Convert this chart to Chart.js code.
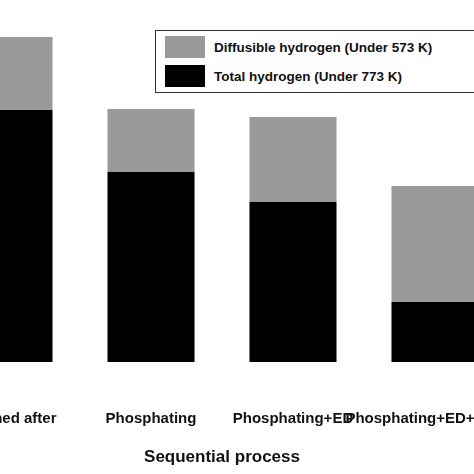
<!DOCTYPE html>
<html><head><meta charset="utf-8">
<script src="https://cdn.jsdelivr.net/npm/chart.js@4"></script>
<style>
html,body{margin:0;padding:0;width:474px;height:474px;overflow:hidden;background:#fff;font-family:"Liberation Sans",Arial,sans-serif}
#wrap{position:absolute;left:-62px;top:0;width:568px;height:474px}
#legend{position:absolute;left:155px;top:30px;width:340px;height:61px;border:1px solid #333;background:#fff;font-weight:bold;font-size:13.5px;color:#111}
.item{position:absolute;left:9px;display:flex;align-items:center}
.sw{width:40px;height:22px;margin-right:9px}
</style></head><body>
<div id="wrap"><canvas id="chart" width="568" height="474"></canvas></div>
<div id="legend">
  <div class="item" style="top:5px"><div class="sw" style="background:#999"></div>Diffusible hydrogen (Under 573 K)</div>
  <div class="item" style="top:34px"><div class="sw" style="background:#000"></div>Total hydrogen (Under 773 K)</div>
</div>
<script>
const categories = ["Cleaned after", "Phosphating", "Phosphating+ED", "Phosphating+ED+Baking"];
const totalH     = [252, 190, 160, 60];
const diffusible = [73, 63, 85, 116];

new Chart(document.getElementById("chart"), {
  type: "bar",
  data: {
    labels: categories,
    datasets: [
      { label: "Total hydrogen (Under 773 K)", data: totalH, backgroundColor: "#000" },
      { label: "Diffusible hydrogen (Under 573 K)", data: diffusible, backgroundColor: "#999" }
    ]
  },
  options: {
    responsive: false, animation: false,
    layout: { padding: 0 },
    plugins: { legend: { display: false }, tooltip: { enabled: false } },
    datasets: { bar: { barPercentage: 0.613, categoryPercentage: 1 } },
    scales: {
      x: {
        stacked: true,
        grid: { display: false, drawTicks: false },
        border: { display: false },
        ticks: { padding: 48, maxRotation: 0, minRotation: 0, autoSkip: false, color: "#111",
                 font: { family: "Liberation Sans", size: 15, weight: "bold" } },
        title: { display: true, text: "Sequential process", color: "#111", padding: { top: 14, bottom: 6 },
                 font: { family: "Liberation Sans", size: 17, weight: "bold" } },
        afterFit: s => { s.height = 112; s.paddingLeft = 0; s.paddingRight = 0; }
      },
      y: { stacked: true, display: false, min: 0, max: 362 }
    }
  }
});
</script>
</body></html>
